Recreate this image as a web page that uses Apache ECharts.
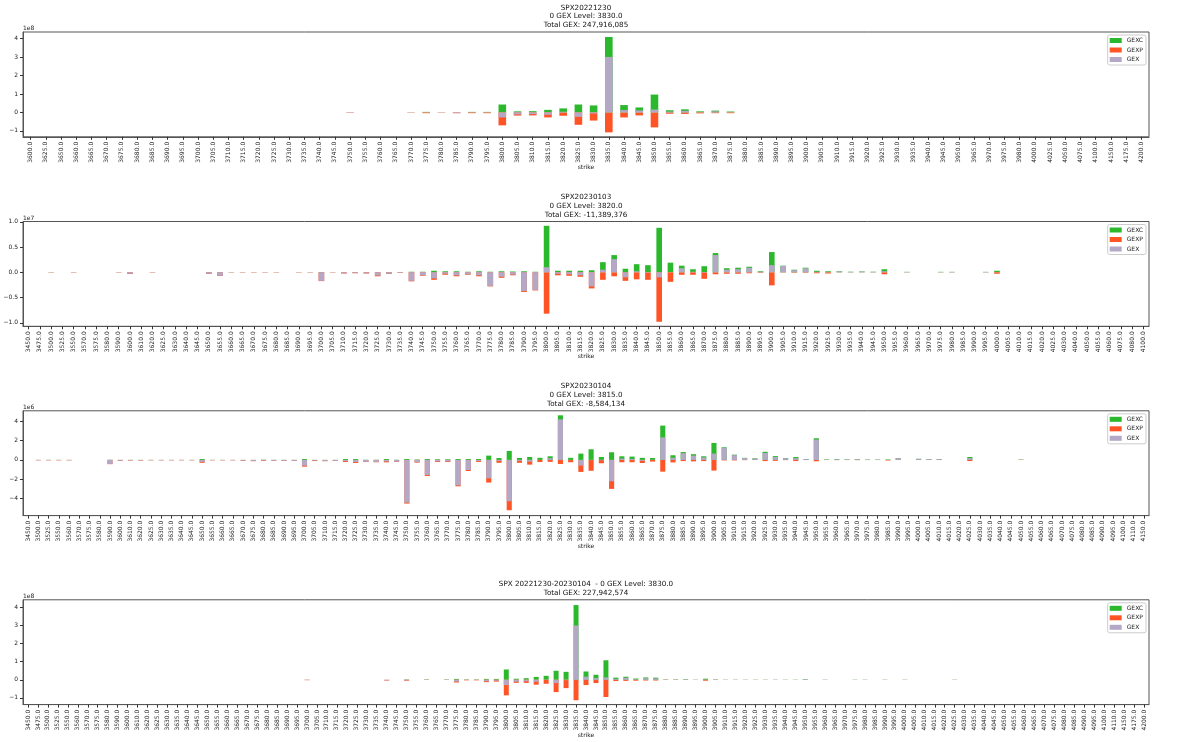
<!DOCTYPE html>
<html>
<head>
<meta charset="utf-8">
<script src="https://cdn.jsdelivr.net/npm/echarts@6/dist/echarts.min.js"></script>
<style>html,body{margin:0;padding:0;background:#fff}#chart{width:1200px;height:742px}</style>
</head>
<body>
<div id="chart"></div>
<script>
// ---------------- categories (strike tick labels) ----------------
const strikes1 = [3600,3625,3650,3660,3665,3670,3675,3680,3685,3690,3695,3700,3705,3710,3715,3720,3725,3730,3735,3740,3745,3750,3755,3760,3765,3770,3775,3780,3785,3790,3795,3800,3805,3810,3815,3820,3825,3830,3835,3840,3845,3850,3855,3860,3865,3870,3875,3880,3885,3890,3895,3900,3905,3910,3915,3920,3925,3930,3935,3940,3945,3950,3965,3970,3975,3980,4000,4025,4050,4075,4100,4150,4175,4200];
const strikes2 = [3450,3475,3500,3525,3550,3570,3575,3580,3590,3600,3610,3620,3625,3630,3640,3645,3650,3655,3660,3665,3670,3675,3680,3685,3690,3695,3700,3705,3710,3715,3720,3725,3730,3735,3740,3745,3750,3755,3760,3765,3770,3775,3780,3785,3790,3795,3800,3805,3810,3815,3820,3825,3830,3835,3840,3845,3850,3855,3860,3865,3870,3875,3880,3885,3890,3895,3900,3905,3910,3915,3920,3925,3930,3935,3940,3945,3950,3955,3960,3965,3970,3975,3980,3985,3990,3995,4000,4005,4010,4015,4020,4025,4030,4040,4050,4055,4060,4075,4080,4100];
const strikes3 = [3450,3500,3525,3550,3560,3570,3575,3580,3590,3600,3610,3620,3625,3630,3635,3640,3645,3650,3655,3660,3665,3670,3675,3680,3685,3690,3695,3700,3705,3710,3715,3720,3725,3730,3735,3740,3745,3750,3755,3760,3765,3770,3775,3780,3785,3790,3795,3800,3805,3810,3815,3820,3825,3830,3835,3840,3845,3850,3855,3860,3865,3870,3875,3880,3885,3890,3895,3900,3905,3910,3915,3920,3925,3930,3935,3940,3945,3950,3955,3960,3965,3970,3975,3980,3985,3990,3995,4000,4005,4010,4015,4020,4025,4030,4035,4040,4045,4050,4055,4060,4065,4070,4075,4080,4085,4090,4095,4100,4110,4150];
const strikes4 = [3450,3475,3500,3525,3550,3560,3570,3575,3580,3590,3600,3610,3620,3625,3630,3635,3640,3645,3650,3655,3660,3665,3670,3675,3680,3685,3690,3695,3700,3705,3710,3715,3720,3725,3730,3735,3740,3745,3750,3755,3760,3765,3770,3775,3780,3785,3790,3795,3800,3805,3810,3815,3820,3825,3830,3835,3840,3845,3850,3855,3860,3865,3870,3875,3880,3885,3890,3895,3900,3905,3910,3915,3920,3925,3930,3935,3940,3945,3950,3955,3960,3965,3970,3975,3980,3985,3990,3995,4000,4005,4010,4015,4020,4025,4030,4035,4040,4045,4050,4055,4060,4065,4070,4075,4080,4085,4090,4095,4100,4110,4150,4175,4200];

// ---------------- panel 1: SPX20221230 (values in 1e8) ----------------
const barStrikes1 = [3750,3770,3775,3780,3785,3790,3795,3800,3805,3810,3815,3820,3825,3830,3835,3840,3845,3850,3855,3860,3865,3870,3875];
const gexc1 = [0.00,0.005,0.03,0.005,0.00,0.03,0.03,0.43,0.06,0.07,0.14,0.22,0.43,0.38,4.09,0.40,0.27,0.97,0.12,0.17,0.06,0.10,0.05];
const gexp1 = [-0.02,-0.015,-0.04,-0.015,-0.04,-0.04,-0.04,-0.70,-0.17,-0.16,-0.27,-0.18,-0.67,-0.44,-1.08,-0.27,-0.16,-0.81,-0.07,-0.08,-0.05,-0.04,-0.04];
const gex1  = [-0.02,-0.01,-0.01,-0.01,-0.04,-0.01,-0.01,-0.27,-0.11,-0.09,-0.13,0.04,-0.24,-0.06,3.01,0.13,0.11,0.16,0.05,0.09,0.01,0.06,0.01];

// ---------------- panel 2: SPX20230103 (values in 1e7) ----------------
const barStrikes2 = [3500,3550,3590,3600,3620,3650,3655,3660,3665,3670,3675,3680,3690,3695,3700,3705,3710,3715,3720,3725,3730,3735,3740,3745,3750,3755,3760,3765,3770,3775,3780,3785,3790,3795,3800,3805,3810,3815,3820,3825,3830,3835,3840,3845,3850,3855,3860,3865,3870,3875,3880,3885,3890,3895,3900,3905,3910,3915,3920,3925,3930,3935,3940,3945,3950,3960,3975,3980,3995,4000];
const gexc2 = [0.002,0.002,0.002,0.0,0.002,0.005,0.005,0.002,0.002,0.002,0.002,0.002,0.002,0.002,0.005,0.002,0.0,0.005,0.005,0.005,0.005,0.002,0.01,0.01,0.03,0.02,0.02,0.01,0.02,0.01,0.02,0.015,0.02,0.01,0.92,0.03,0.03,0.03,0.04,0.20,0.34,0.07,0.16,0.14,0.88,0.19,0.13,0.06,0.12,0.38,0.08,0.09,0.11,0.02,0.40,0.13,0.05,0.09,0.03,0.02,0.02,0.01,0.015,0.01,0.06,0.008,0.008,0.008,0.008,0.03];
const gexp2 = [-0.006,-0.006,-0.006,-0.035,-0.006,-0.035,-0.075,-0.006,-0.006,-0.006,-0.006,-0.006,-0.006,-0.006,-0.175,-0.006,-0.025,-0.02,-0.025,-0.08,-0.035,-0.012,-0.18,-0.07,-0.15,-0.05,-0.08,-0.05,-0.08,-0.28,-0.11,-0.06,-0.39,-0.36,-0.82,-0.06,-0.07,-0.09,-0.32,-0.15,-0.08,-0.17,-0.14,-0.15,-0.98,-0.19,-0.05,-0.05,-0.13,-0.04,-0.03,-0.03,-0.02,-0.01,-0.26,-0.005,-0.01,-0.01,-0.02,-0.025,-0.003,-0.002,-0.002,-0.002,-0.04,-0.002,-0.002,-0.002,-0.002,-0.03];
const gex2  = [-0.004,-0.004,-0.004,-0.03,-0.004,-0.03,-0.07,-0.004,-0.004,-0.004,-0.004,-0.004,-0.004,-0.004,-0.17,-0.004,-0.02,-0.015,-0.02,-0.065,-0.03,-0.01,-0.17,-0.06,-0.12,-0.03,-0.06,-0.04,-0.06,-0.27,-0.09,-0.045,-0.37,-0.35,0.10,-0.03,-0.04,-0.06,-0.28,0.05,0.26,-0.10,0.02,-0.01,-0.10,0.00,0.08,0.01,-0.01,0.34,0.05,0.06,0.09,0.01,0.14,0.125,0.04,0.08,0.01,-0.005,0.017,0.008,0.013,0.008,0.02,0.006,0.006,0.006,0.006,0.0];

// ---------------- panel 3: SPX20230104 (values in 1e6) ----------------
const barStrikes3 = [3500,3525,3550,3560,3590,3600,3610,3620,3625,3630,3635,3640,3645,3650,3655,3660,3665,3670,3675,3680,3685,3690,3695,3700,3705,3710,3715,3720,3725,3730,3735,3740,3745,3750,3755,3760,3765,3770,3775,3780,3785,3790,3795,3800,3805,3810,3815,3820,3825,3830,3835,3840,3845,3850,3855,3860,3865,3870,3875,3880,3885,3890,3895,3900,3905,3910,3915,3920,3925,3930,3935,3940,3945,3950,3955,3960,3965,3970,3975,3980,3985,3990,4000,4005,4010,4025,4050];
const gexc3 = [0.01,0.01,0.01,0.01,0.02,0.01,0.01,0.01,0.01,0.01,0.01,0.01,0.01,0.10,0.01,0.01,0.01,0.01,0.01,0.02,0.01,0.01,0.01,0.10,0.01,0.01,0.01,0.10,0.10,0.02,0.02,0.10,0.02,0.10,0.05,0.10,0.07,0.07,0.10,0.10,0.10,0.45,0.20,0.94,0.20,0.31,0.22,0.38,4.65,0.22,0.66,1.11,0.31,0.80,0.38,0.35,0.22,0.20,3.58,0.49,0.82,0.60,0.38,1.77,1.32,0.55,0.22,0.17,0.85,0.40,0.20,0.31,0.10,2.26,0.05,0.08,0.06,0.08,0.04,0.04,0.05,0.20,0.12,0.10,0.10,0.31,0.04];
const gexp3 = [-0.04,-0.04,-0.04,-0.04,-0.44,-0.09,-0.06,-0.06,-0.04,-0.04,-0.04,-0.04,-0.04,-0.30,-0.04,-0.04,-0.04,-0.09,-0.13,-0.10,-0.09,-0.11,-0.11,-0.70,-0.12,-0.13,-0.11,-0.22,-0.32,-0.22,-0.24,-0.25,-0.20,-4.55,-0.28,-1.68,-0.22,-0.22,-2.75,-1.15,-0.20,-2.36,-0.30,-5.24,-0.30,-0.49,-0.22,-0.20,-0.42,-0.24,-1.25,-1.13,-0.35,-3.02,-0.24,-0.24,-0.32,-0.17,-1.22,-0.26,-0.12,-0.15,-0.12,-1.11,-0.05,-0.05,-0.02,-0.01,-0.12,-0.10,-0.02,-0.12,-0.01,-0.14,-0.01,-0.02,-0.01,-0.02,-0.01,-0.01,-0.06,-0.01,-0.01,-0.01,-0.01,-0.12,-0.01];
const gex3  = [-0.03,-0.03,-0.03,-0.03,-0.42,-0.08,-0.05,-0.05,-0.03,-0.03,-0.03,-0.03,-0.03,-0.20,-0.03,-0.03,-0.03,-0.08,-0.12,-0.06,-0.08,-0.10,-0.10,-0.60,-0.08,-0.12,-0.10,-0.12,-0.22,-0.20,-0.22,-0.15,-0.18,-4.45,-0.23,-1.58,-0.15,-0.15,-2.65,-1.05,-0.10,-1.91,-0.10,-4.30,-0.10,-0.18,0.00,0.18,4.23,-0.02,-0.59,-0.02,-0.04,-2.22,0.14,0.11,-0.10,0.03,2.36,0.23,0.70,0.45,0.26,0.66,1.27,0.50,0.20,0.16,0.73,0.30,0.18,0.19,0.09,2.12,0.04,0.06,0.05,0.06,0.03,0.03,-0.01,0.19,0.11,0.09,0.09,0.19,0.03];

// ---------------- panel 4: SPX 20221230-20230104 (values in 1e8) ----------------
const barStrikes4 = [3700,3740,3750,3760,3770,3775,3780,3785,3790,3795,3800,3805,3810,3815,3820,3825,3830,3835,3840,3845,3850,3855,3860,3865,3870,3875,3880,3885,3890,3895,3900,3905,3910,3915,3920,3925,3930,3935,3940,3945,3950,3960,3975,3980,3990,4000,4025];
const gexc4 = [0.005,0.0,0.02,0.02,0.02,0.05,0.02,0.02,0.05,0.05,0.57,0.06,0.09,0.16,0.22,0.50,0.44,4.13,0.46,0.28,1.08,0.12,0.17,0.07,0.13,0.12,0.02,0.02,0.03,0.01,0.06,0.02,0.01,0.01,0.01,0.01,0.01,0.01,0.01,0.01,0.03,0.01,0.01,0.01,0.01,0.01,0.01];
const gexp4 = [-0.02,-0.04,-0.05,-0.01,-0.005,-0.15,-0.03,-0.03,-0.13,-0.10,-0.86,-0.17,-0.17,-0.27,-0.22,-0.68,-0.46,-1.13,-0.29,-0.18,-0.95,-0.07,-0.06,-0.05,-0.04,-0.04,-0.01,-0.01,-0.005,-0.005,-0.05,-0.01,-0.003,-0.003,-0.003,-0.003,-0.003,-0.003,-0.003,-0.003,-0.003,-0.003,-0.003,-0.003,-0.003,-0.003,-0.003];
const gex4  = [-0.015,-0.03,-0.03,0.01,0.015,-0.10,-0.01,-0.01,-0.08,-0.05,-0.29,-0.11,-0.08,-0.11,-0.01,-0.18,-0.02,3.00,0.17,0.10,0.13,0.05,0.11,0.02,0.09,0.08,0.01,0.01,0.025,0.005,0.01,0.01,0.007,0.007,0.007,0.007,0.007,0.007,0.007,0.007,0.025,0.007,0.007,0.007,0.007,0.007,0.007];

// ---------------- titles / axis ticks ----------------
const titles = [
  ['SPX20221230', '0 GEX Level: 3830.0', 'Total GEX: 247,916,085'],
  ['SPX20230103', '0 GEX Level: 3820.0', 'Total GEX: -11,389,376'],
  ['SPX20230104', '0 GEX Level: 3815.0', 'Total GEX: -8,584,134'],
  ['SPX 20221230-20230104  - 0 GEX Level: 3830.0', 'Total GEX: 227,942,574']
];
const offsetTexts = ['1e8', '1e7', '1e6', '1e8'];
const yTicks = [[-1,0,1,2,3,4], [-1,-0.5,0,0.5,1], [-4,-2,0,2,4], [-1,0,1,2,3,4]];
const yDecimals = [0, 1, 0, 0];
const yRanges = [[-1.32, 4.36], [-1.07, 1.005], [-5.8, 5.12], [-1.37, 4.42]];
const seriesNames = ['GEXC', 'GEXP', 'GEX'];
const colors = ['#2cb82c', '#ff5526', '#b4a8c6'];

// ---------------- build ----------------
const panels = [
  {cats: strikes1, bs: barStrikes1, vals: [gexc1, gexp1, gex1]},
  {cats: strikes2, bs: barStrikes2, vals: [gexc2, gexp2, gex2]},
  {cats: strikes3, bs: barStrikes3, vals: [gexc3, gexp3, gex3]},
  {cats: strikes4, bs: barStrikes4, vals: [gexc4, gexp4, gex4]}
];
const FONT = 'DejaVu Sans';
const gridTops = [32, 221.5, 410.8, 599.8];
const gridH = 104.8, gridL = 23, gridW = 1126;

const grid = [], xAxis = [], yAxis = [], series = [], legend = [], graphic = [];
panels.forEach((p, i) => {
  grid.push({left: gridL, top: gridTops[i], width: gridW, height: gridH, show: true,
    borderColor: '#555', borderWidth: 1, backgroundColor: 'transparent', containLabel: false, outerBoundsMode: 'none'});
  xAxis.push({type: 'category', gridIndex: i, data: p.cats.map(v => v.toFixed(1)), boundaryGap: true,
    axisLine: {show: true, onZero: false, lineStyle: {color: '#555', width: 1}},
    axisTick: {show: true, alignWithLabel: true, interval: 0, length: 3, lineStyle: {color: '#333'}},
    axisLabel: {interval: 0, rotate: 90, fontSize: 6, fontFamily: FONT, color: '#222', margin: 5},
    splitLine: {show: false}});
  yAxis.push({type: 'value', gridIndex: i, min: yRanges[i][0], max: yRanges[i][1],
    axisLine: {show: true, onZero: false, lineStyle: {color: '#555', width: 1}},
    axisTick: {show: true, length: 3, customValues: yTicks[i], lineStyle: {color: '#333'}},
    axisLabel: {customValues: yTicks[i], fontSize: 6, fontFamily: FONT, color: '#222', margin: 5,
      formatter: v => (v < 0 ? '\u2212' : '') + Math.abs(v).toFixed(yDecimals[i])},
    splitLine: {show: false}});
  p.vals.forEach((arr, k) => {
    const m = new Map(p.bs.map((s, j) => [s, arr[j]]));
    series.push({type: 'bar', name: seriesNames[k], xAxisIndex: i, yAxisIndex: i,
      data: p.cats.map(c => m.has(c) ? m.get(c) : null),
      barWidth: '50%', barGap: '-100%', itemStyle: {color: colors[k]}, animation: false,
      emphasis: {disabled: true}});
  });
  legend.push({data: seriesNames, orient: 'vertical', right: 54, top: gridTops[i] + 3,
    icon: 'rect', itemWidth: 12, itemHeight: 5, itemGap: 2.5, padding: [2, 3, 2, 2],
    borderColor: '#ccc', borderWidth: 1, borderRadius: 2, backgroundColor: 'rgba(255,255,255,0.8)',
    textStyle: {fontSize: 6, fontFamily: FONT, color: '#222', lineHeight: 7}, selectedMode: false});
  // titles
  const lines = titles[i];
  lines.forEach((t, li) => {
    const y = gridTops[i] - 6.8 - (lines.length - 1 - li) * 8.7;
    graphic.push({type: 'text', x: gridL + gridW / 2, y: y,
      style: {text: t, font: '7.2px "DejaVu Sans"', fill: '#111', textAlign: 'center', textVerticalAlign: 'middle'}});
  });
  graphic.push({type: 'text', x: gridL, y: gridTops[i] - 3.3,
    style: {text: offsetTexts[i], font: '6px "DejaVu Sans"', fill: '#222', textAlign: 'left', textVerticalAlign: 'middle'}});
  graphic.push({type: 'text', x: gridL + gridW / 2, y: gridTops[i] + gridH + 30.5,
    style: {text: 'strike', font: '6px "DejaVu Sans"', fill: '#222', textAlign: 'center', textVerticalAlign: 'middle'}});
});

const chart = echarts.init(document.getElementById('chart'), null, {renderer: 'canvas'});
chart.setOption({animation: false, backgroundColor: '#fff', grid, xAxis, yAxis, series, legend, graphic});
</script>
</body>
</html>
